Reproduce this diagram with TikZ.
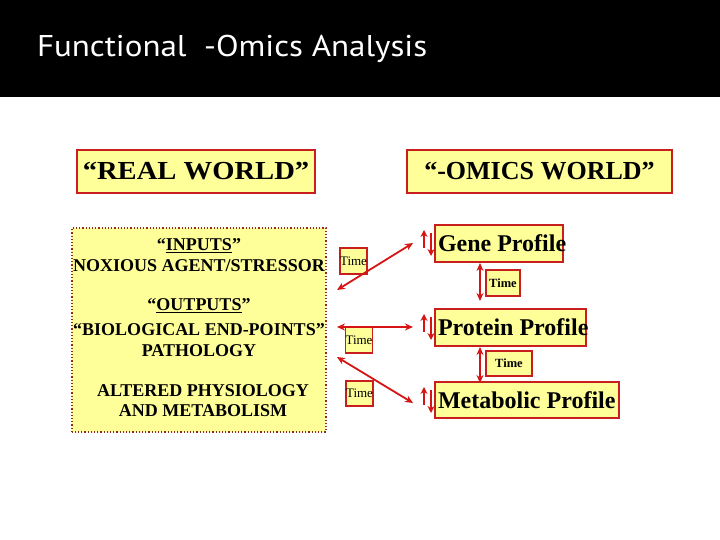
\documentclass[tikz,border=0pt]{standalone}
\usepackage{fontspec}
\setmainfont{Liberation Serif}
\newfontfamily\titlefont{PT Sans}
\usepackage{graphicx}
\usepackage{tikz}
\usetikzlibrary{arrows.meta}

\begin{document}
\begin{tikzpicture}[x=1pt,y=1pt,
  boxcol/.style={draw=borderColor,line width=2pt,fill=fillColor,inner sep=0pt},
  profile/.style={boxcol,inner xsep=3pt,font=\bfseries\fontsize{24}{26}\selectfont},
  bigtext/.style={text=drawColor,anchor=base,inner sep=0pt,outer sep=0pt,font=\bfseries\fontsize{18}{20}\selectfont},
  timebox/.style={draw=borderColor,line width=1.6pt,fill=fillColor,inner sep=0pt,font=\fontsize{13}{14}\selectfont},
  dblarrow/.style={draw=arrowColor,line width=1.8pt,{Stealth[length=8pt,width=7pt]}-{Stealth[length=8pt,width=7pt]}},
  onearrow/.style={draw=arrowColor,line width=2pt,-{Stealth[length=7pt,width=7pt]}}]
\definecolor{fillColor}{RGB}{255,255,153}
\definecolor{borderColor}{RGB}{200,30,30}
\definecolor{arrowColor}{RGB}{215,20,20}
\definecolor{dotColor}{RGB}{150,40,30}
\definecolor{drawColor}{RGB}{0,0,0}
\path[use as bounding box,fill=white] (0,0) rectangle (720,540);

% header
\path[fill=black] (0,443) rectangle (720,540);
\node[text=white,anchor=base west,inner sep=0pt,outer sep=0pt,xscale=1.1,font=\titlefont\fontsize{30}{32}\selectfont] (title) at (37,483) {Functional\ \ -Omics Analysis};

% worlds
\node[boxcol,minimum width=238,minimum height=43,font=\bfseries\fontsize{26}{28}\selectfont] (real) at (196,368.5) {\scalebox{1.1}[1]{``REAL WORLD''}};
\node[boxcol,minimum width=265,minimum height=43,font=\bfseries\fontsize{26}{28}\selectfont] (omics) at (539.5,368.5) {``-OMICS WORLD''};

% real world box
\path[draw=dotColor,line width=1.2pt,dotted,fill=fillColor] (72,108) rectangle (326,312);
\node[bigtext] (inputs) at (199,289) {``\underline{INPUTS}''};
\node[bigtext] (noxious) at (199,268) {NOXIOUS AGENT/STRESSOR};
\node[bigtext] (outputs) at (199,229) {``\underline{OUTPUTS}''};
\node[bigtext] (endpoints) at (199,204) {``BIOLOGICAL END-POINTS''};
\node[bigtext] (pathology) at (199,183) {PATHOLOGY};
\node[bigtext] (altered) at (203,143) {ALTERED PHYSIOLOGY};
\node[bigtext] (metab) at (203,123) {AND METABOLISM};

% omics profiles
\node[profile,minimum width=128,minimum height=37] (gene) at (499,296.5) {\makebox[122pt][l]{Gene Profile}};
\node[profile,minimum width=151,minimum height=37] (protein) at (510.5,212.5) {\makebox[145pt][l]{Protein Profile}};
\node[profile,minimum width=184,minimum height=36] (metabolic) at (527,140) {\makebox[178pt][l]{Metabolic Profile}};

% time boxes
\node[timebox,minimum width=25,minimum height=26] (timeA) at (353.5,279) {Time};
\node[timebox,minimum width=26,minimum height=26] (timeB) at (359,200) {Time};
\node[timebox,minimum width=25,minimum height=25] (timeC) at (359.5,146.5) {Time};
\node[timebox,minimum width=34,minimum height=26,font=\bfseries\fontsize{12.5}{13}\selectfont] (timeD) at (503,257) {Time};
\node[timebox,minimum width=46,minimum height=25,font=\bfseries\fontsize{12.5}{13}\selectfont] (timeE) at (509,176.5) {Time};

% connector ends
\coordinate (la) at (337,250);
\coordinate (lb) at (337,213);
\coordinate (lc) at (337,183);
\coordinate (ra) at (413,297);
\coordinate (rb) at (413,213);
\coordinate (rc) at (413,137);
\coordinate (va) at (480,239);
\coordinate (vb) at (480,157);

\draw[dblarrow] (la) -- (ra);
\draw[dblarrow] (lb) -- (rb);
\draw[dblarrow] (lc) -- (rc);
\draw[dblarrow] (gene.south -| va) -- (va);
\draw[dblarrow] (protein.south -| vb) -- (vb);

% up and down
\foreach \n/\dy in {gene/0,protein/84,metabolic/157}{
  \coordinate (\n-upA) at (424,292-\dy);
  \coordinate (\n-upB) at (424,310-\dy);
  \coordinate (\n-dnA) at (431,307-\dy);
  \coordinate (\n-dnB) at (431,284-\dy);
  \draw[onearrow] (\n-upA) -- (\n-upB);
  \draw[onearrow] (\n-dnA) -- (\n-dnB);
}
\end{tikzpicture}
\end{document}
